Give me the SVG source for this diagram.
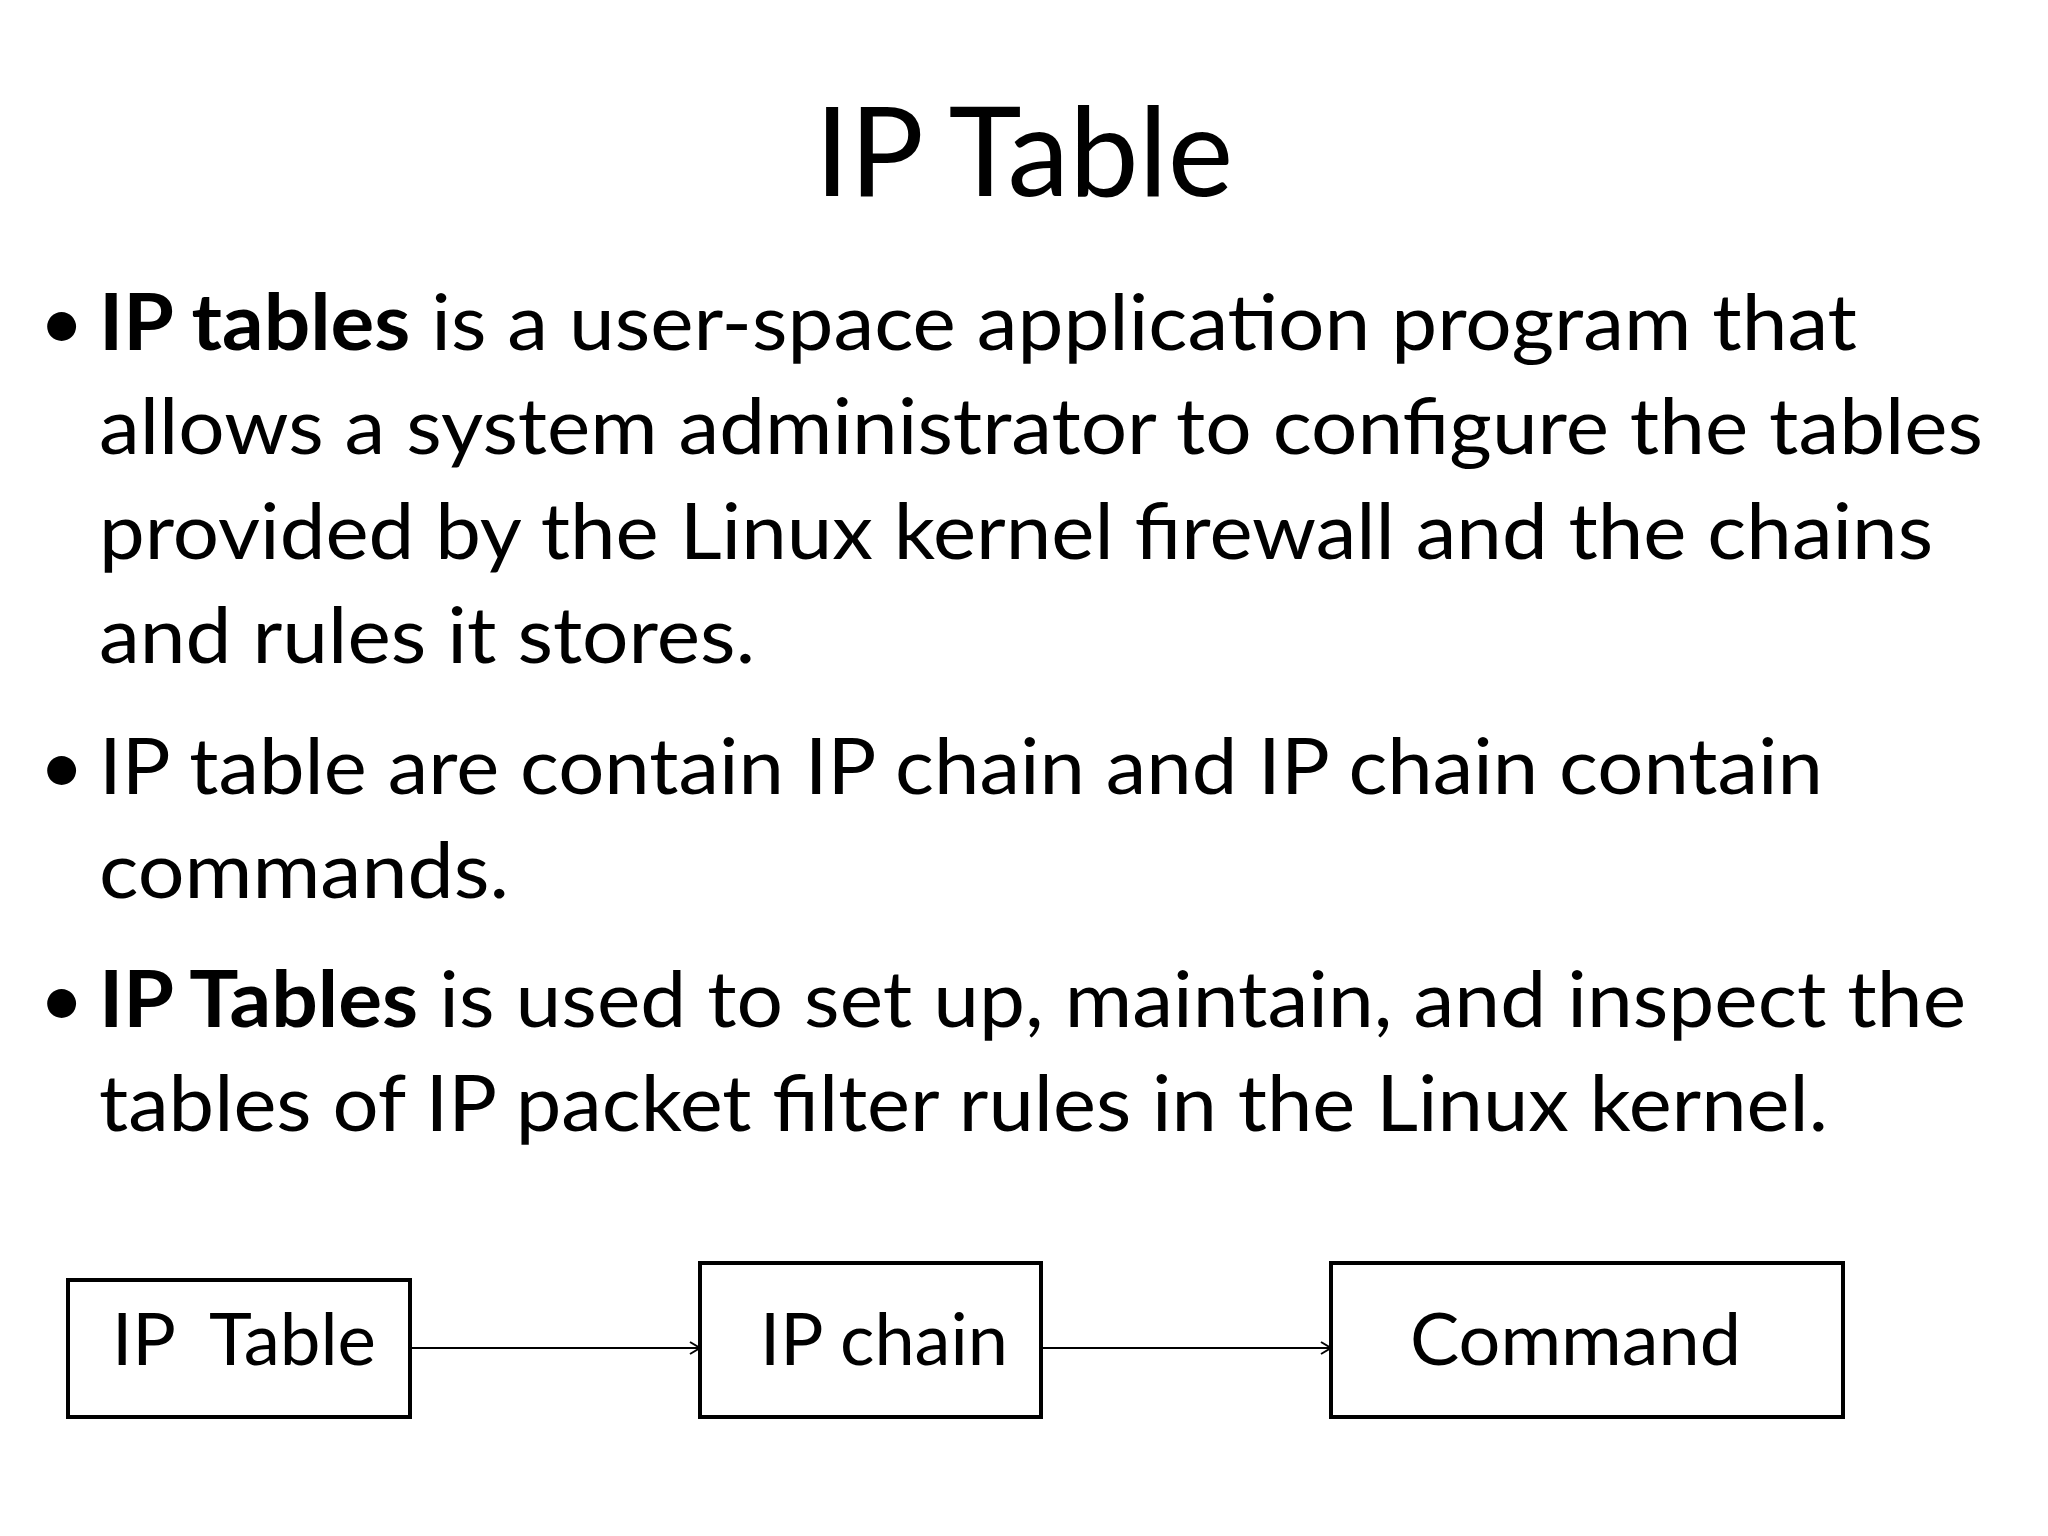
<svg xmlns="http://www.w3.org/2000/svg" width="2048" height="1536" viewBox="0 0 2048 1536">
<defs>
<style>
text{font-family:Lato,"Open Sans","Liberation Sans",sans-serif;fill:#000}
.t{font-size:124px}
.b{font-size:78px}
.n{font-size:72px}
.box{fill:#fff;stroke:#000;stroke-width:4}
.c{stroke:#000;stroke-width:2;fill:none}
</style>
<marker id="ah" markerWidth="14" markerHeight="14" refX="12" refY="7" orient="auto" markerUnits="userSpaceOnUse">
<path d="M2,1 L12,7 L2,13" fill="none" stroke="#000" stroke-width="2"/>
</marker>
</defs>
<rect width="2048" height="1536" fill="#fff"/>
<text class="t" x="1024" y="196" text-anchor="middle">IP Table</text>
<g class="b">
<text x="39" y="350">•</text>
<text x="99" y="350" textLength="1758" lengthAdjust="spacingAndGlyphs"><tspan font-weight="bold">IP tables</tspan> is a user-space application program that</text>
<text x="99" y="454" textLength="1884" lengthAdjust="spacingAndGlyphs">allows a system administrator to configure the tables</text>
<text x="99" y="559" textLength="1834" lengthAdjust="spacingAndGlyphs">provided by the Linux kernel firewall and the chains</text>
<text x="99" y="663" textLength="656" lengthAdjust="spacingAndGlyphs">and rules it stores.</text>
<text x="39" y="794">•</text>
<text x="99" y="794" textLength="1724" lengthAdjust="spacingAndGlyphs">IP table are contain IP chain and IP chain contain</text>
<text x="99" y="898" textLength="410" lengthAdjust="spacingAndGlyphs">commands.</text>
<text x="39" y="1027">•</text>
<text x="99" y="1027" textLength="1867" lengthAdjust="spacingAndGlyphs"><tspan font-weight="bold">IP Tables</tspan> is used to set up, maintain, and inspect the</text>
<text x="99" y="1131" textLength="1729" lengthAdjust="spacingAndGlyphs">tables of IP packet filter rules in the Linux kernel.</text>
</g>
<g id="connectors">
<line class="c" x1="410" y1="1348" x2="700" y2="1348" marker-end="url(#ah)"/>
<line class="c" x1="1041" y1="1348" x2="1331" y2="1348" marker-end="url(#ah)"/>
</g>
<g id="iptable"><rect class="box" x="68" y="1280" width="342" height="137"/>
<text class="n" x="112" y="1365" textLength="264" lengthAdjust="spacingAndGlyphs" xml:space="preserve">IP  Table</text></g>
<g id="ipchain"><rect class="box" x="700" y="1263" width="341" height="154"/>
<text class="n" x="760" y="1365" textLength="248" lengthAdjust="spacingAndGlyphs">IP chain</text></g>
<g id="command"><rect class="box" x="1331" y="1263" width="512" height="154"/>
<text class="n" x="1410" y="1365" textLength="331" lengthAdjust="spacingAndGlyphs">Command</text></g>
</svg>
